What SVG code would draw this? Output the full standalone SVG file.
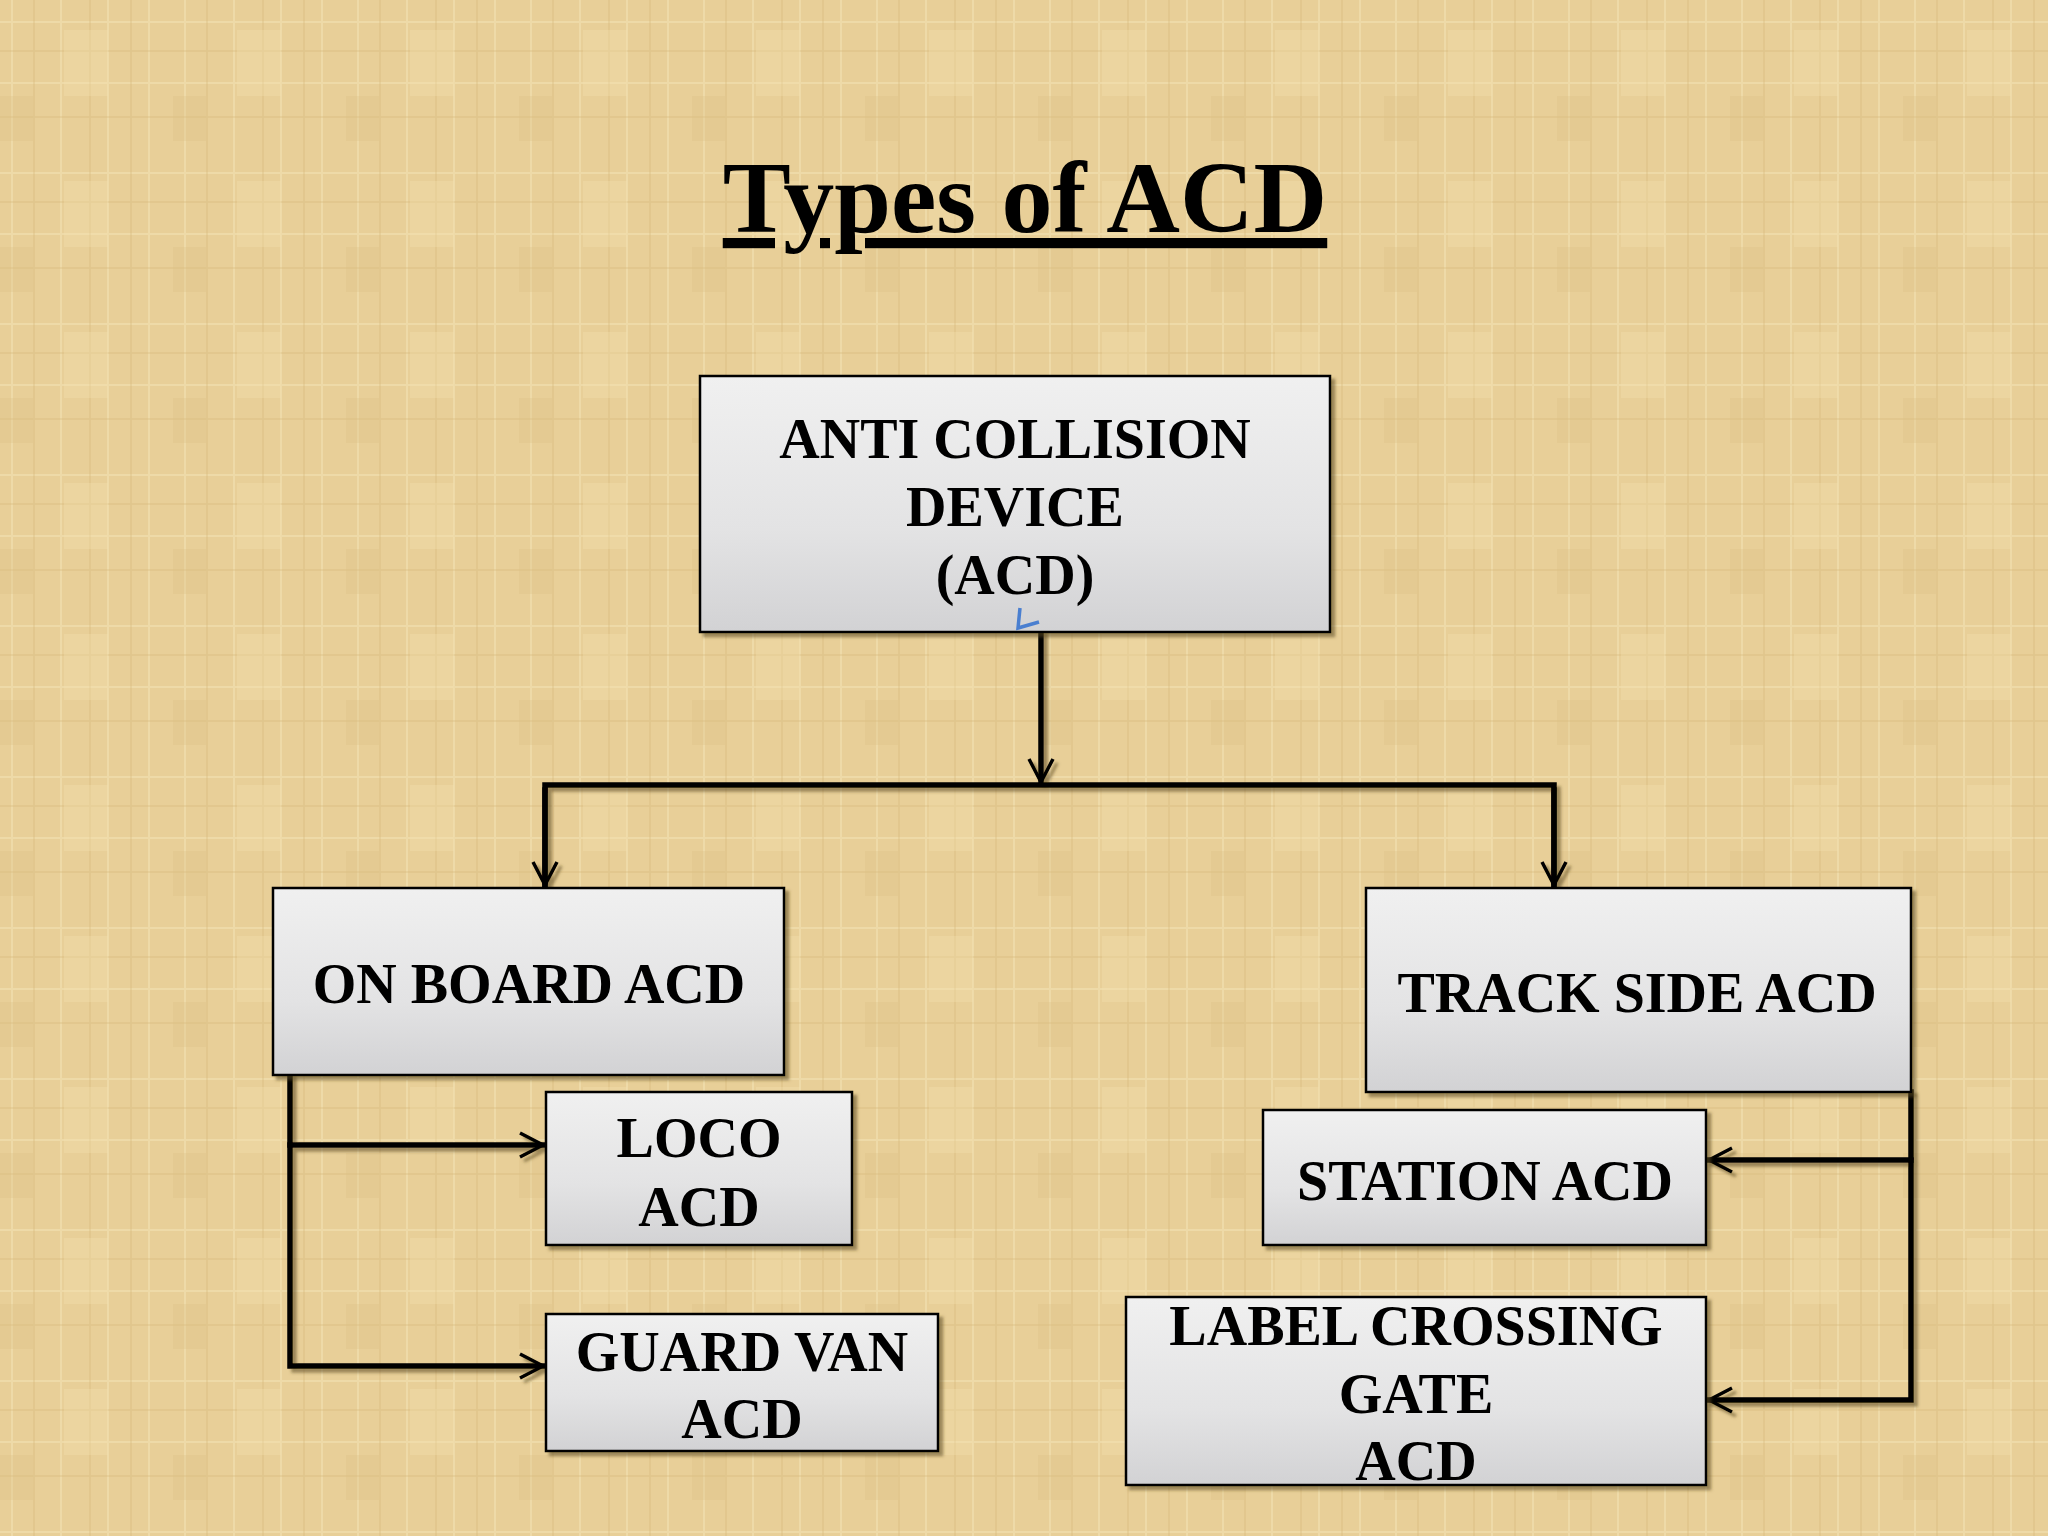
<svg xmlns="http://www.w3.org/2000/svg" width="2048" height="1536" viewBox="0 0 2048 1536">
<style>
.box{fill:url(#boxg);stroke:#000;stroke-width:2.5;filter:url(#sh)}
.lbl{font-family:"Liberation Serif","Times New Roman",serif;font-weight:bold;font-size:56px;fill:#000;text-anchor:middle}
.ln{fill:none;stroke:#000;stroke-width:5.5;stroke-linecap:square}
.title{font-family:"Liberation Serif","Times New Roman",serif;font-weight:bold;font-size:102px;fill:#000;text-anchor:middle;text-decoration:underline}
</style>
<defs>
<linearGradient id="boxg" x1="0" y1="0" x2="0" y2="1">
<stop offset="0" stop-color="#f0f0f0"/>
<stop offset="0.6" stop-color="#e3e3e4"/>
<stop offset="1" stop-color="#d2d2d4"/>
</linearGradient>
<filter id="sh" x="-5%" y="-5%" width="115%" height="120%">
<feDropShadow dx="4" dy="4" stdDeviation="1.5" flood-color="#5a4a20" flood-opacity="0.55"/>
</filter>
<marker id="ar" markerUnits="userSpaceOnUse" markerWidth="34" markerHeight="34" viewBox="0 0 34 34" refX="29" refY="17" orient="auto">
<path d="M5,5 L28,17 L5,29" fill="none" stroke="#000" stroke-width="3.5"/>
</marker>
<pattern id="tex" width="173" height="151" patternUnits="userSpaceOnUse">
<rect width="173" height="151" fill="#e8cf98"/>
<g stroke="#f6e6bd" stroke-width="2" opacity="0.45">
<line x1="12" y1="0" x2="12" y2="151"/><line x1="61" y1="0" x2="61" y2="151"/><line x1="108" y1="0" x2="108" y2="151"/><line x1="149" y1="0" x2="149" y2="151"/>
<line x1="0" y1="22" x2="173" y2="22"/><line x1="0" y1="83" x2="173" y2="83"/>
</g>
<g stroke="#d4b878" stroke-width="1.5" opacity="0.4">
<line x1="34" y1="0" x2="34" y2="151"/><line x1="90" y1="0" x2="90" y2="151"/><line x1="131" y1="0" x2="131" y2="151"/>
<line x1="0" y1="51" x2="173" y2="51"/><line x1="0" y1="117" x2="173" y2="117"/>
</g>
<rect x="64" y="30" width="44" height="66" fill="#f2deae" opacity="0.35"/>
<rect x="0" y="96" width="33" height="45" fill="#dcc185" opacity="0.3"/>
</pattern>
</defs>
<rect width="2048" height="1536" fill="url(#tex)"/>

<text class="title" x="1025" y="232">Types of ACD</text>

<g id="connectors" filter="url(#sh)">
<line class="ln" x1="1041" y1="632" x2="1041" y2="783" marker-end="url(#ar)"/>
<polyline class="ln" points="545,886 545,785 1554,785 1554,886" stroke-linecap="butt"/>
<line class="ln" x1="545" y1="790" x2="545" y2="886" marker-end="url(#ar)"/>
<line class="ln" x1="1554" y1="790" x2="1554" y2="886" marker-end="url(#ar)"/>
<polyline class="ln" points="290,1075 290,1366 544,1366" marker-end="url(#ar)"/>
<line class="ln" x1="290" y1="1145" x2="544" y2="1145" marker-end="url(#ar)"/>
<polyline class="ln" points="1911,1092 1911,1400 1708,1400" marker-end="url(#ar)"/>
<line class="ln" x1="1911" y1="1160" x2="1708" y2="1160" marker-end="url(#ar)"/>
</g>

<g id="acd">
<rect class="box" x="700" y="376" width="630" height="256"/>
<text class="lbl" x="1015" y="458">ANTI COLLISION</text>
<text class="lbl" x="1015" y="526">DEVICE</text>
<text class="lbl" x="1015" y="594">(ACD)</text>
<polyline points="1020,608 1018,628 1039,622" fill="none" stroke="#4a7fd0" stroke-width="3.5"/>
</g>

<g id="onboard">
<rect class="box" x="273" y="888" width="511" height="187"/>
<text class="lbl" x="529" y="1003">ON BOARD ACD</text>
</g>

<g id="trackside">
<rect class="box" x="1366" y="888" width="545" height="204"/>
<text class="lbl" x="1637" y="1012">TRACK SIDE ACD</text>
</g>

<g id="loco">
<rect class="box" x="546" y="1092" width="306" height="153"/>
<text class="lbl" x="699" y="1157">LOCO</text>
<text class="lbl" x="699" y="1226">ACD</text>
</g>

<g id="guardvan">
<rect class="box" x="546" y="1314" width="392" height="137"/>
<text class="lbl" x="742" y="1371">GUARD VAN</text>
<text class="lbl" x="742" y="1438">ACD</text>
</g>

<g id="station">
<rect class="box" x="1263" y="1110" width="443" height="135"/>
<text class="lbl" x="1485" y="1200">STATION ACD</text>
</g>

<g id="levelcrossing">
<rect class="box" x="1126" y="1297" width="580" height="188"/>
<text class="lbl" x="1416" y="1345">LABEL CROSSING</text>
<text class="lbl" x="1416" y="1413">GATE</text>
<text class="lbl" x="1416" y="1480">ACD</text>
</g>
</svg>
